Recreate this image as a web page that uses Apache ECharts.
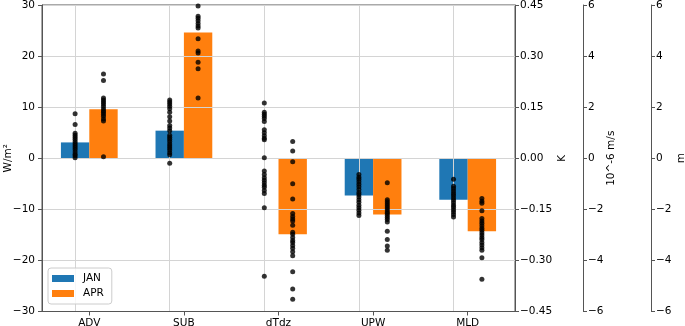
<!DOCTYPE html>
<html>
<head>
<meta charset="utf-8">
<script src="https://cdn.jsdelivr.net/npm/echarts@6/dist/echarts.min.js"></script>
<style>
  html, body { margin: 0; padding: 0; background: #fff; }
  #chart { width: 685px; height: 326px; }
</style>
</head>
<body>
<div id="chart"></div>
<script>
const categories = ['ADV', 'SUB', 'dTdz', 'UPW', 'MLD'];
const janMean = [3.1, 5.4, 0, -7.3, -8.1];
const aprMean = [9.6, 24.6, -14.9, -11.0, -14.3];

// per-member values, one list per category
const janDots = [
  [8.7, 6.6, 4.9, 4.5, 4.1, 3.7, 3.3, 2.9, 2.5, 2.1, 1.7, 1.2, 0.8, 0.5, 0.1],
  [11.4, 11.0, 10.6, 10.2, 9.7, 9.0, 8.1, 7.3, 6.4, 5.9, 5.4, 4.5, 4.1, 3.7, 3.3, 2.8, 2.4, 2.0, 1.6, 1.1, 0.7, -1.0],
  [10.8, 9.0, 8.6, 8.2, 7.8, 7.2, 5.6, 5.0, 4.4, 3.9, 3.6, 0.1, -2.5, -3.2, -3.8, -4.3, -4.8, -5.3, -5.7, -6.3, -6.9, -9.7, -23.1],
  [-3.2, -3.7, -4.1, -4.6, -5.1, -5.6, -6.1, -6.7, -7.1, -7.6, -8.1, -8.6, -9.2, -9.7, -10.2, -10.7, -11.2],
  [-4.1, -5.5, -5.9, -6.4, -6.9, -7.3, -7.8, -8.2, -8.7, -9.2, -9.6, -10.1, -10.5, -11.0, -11.5]
];
const aprDots = [
  [16.5, 15.2, 11.8, 11.4, 11.0, 10.6, 10.2, 9.7, 9.3, 9.0, 8.6, 8.2, 7.7, 7.3, 0.3],
  [29.8, 27.8, 27.4, 26.9, 26.4, 25.9, 25.5, 23.4, 21.0, 20.6, 18.8, 17.5, 11.8],
  [3.3, 1.4, -0.7, -5.0, -8.0, -10.8, -11.4, -11.9, -12.3, -13.1, -14.5, -14.9, -15.5, -16.1, -16.5, -17.1, -17.6, -18.3, -19.1, -22.2, -25.6, -27.6],
  [-4.8, -8.1, -8.5, -8.9, -9.3, -9.7, -10.1, -10.5, -10.8, -11.2, -11.6, -12.0, -12.5, -14.3, -15.9, -17.2, -18.0],
  [-7.9, -8.4, -8.8, -10.3, -11.8, -12.3, -12.7, -13.2, -13.7, -14.1, -14.6, -15.0, -15.5, -15.9, -16.5, -17.0, -17.5, -18.0, -19.5, -23.7]
];

const font = 'DejaVu Sans';
const spineColor = '#555';
const gridColor = '#d4d4d4';

const minus = v => String(v).replace('-', '\u2212');
const fixed2 = v => minus((Math.abs(v) < 1e-9 ? 0 : v).toFixed(2));

const toPoints = (lists, shift) => lists.flatMap((vals, i) => vals.map(v => [i + shift, v]));

function rightAxis(name, min, max, interval, offset, gap, fmt) {
  return {
    type: 'value',
    position: 'right',
    offset,
    min, max, interval,
    name,
    nameLocation: 'middle',
    nameRotate: 90,
    nameGap: gap,
    nameMoveOverlap: false,
    nameTextStyle: { fontFamily: font, fontSize: 10.5, color: '#000' },
    axisLine: { show: true, onZero: false, lineStyle: { color: spineColor, width: 1 } },
    axisTick: { show: true, length: 4, lineStyle: { color: spineColor } },
    axisLabel: { margin: 5, fontFamily: font, fontSize: 10.5, color: '#000', formatter: fmt },
    splitLine: { show: false },
    z: 2
  };
}

const chart = echarts.init(document.getElementById('chart'));

chart.setOption({
  animation: false,
  grid: {
    left: 42, right: 170, top: 5, bottom: 14.5,
    outerBoundsMode: 'none',
    containLabel: false,
    show: true, borderColor: spineColor, borderWidth: 1, backgroundColor: 'transparent'
  },
  legend: {
    data: ['JAN', 'APR'],
    orient: 'vertical',
    left: 48, top: 268,
    padding: [5, 8, 5, 4],
    itemWidth: 22, itemHeight: 7, itemGap: 4,
    icon: 'rect',
    borderColor: '#ccc', borderWidth: 1, borderRadius: 3,
    backgroundColor: 'rgba(255,255,255,0.8)',
    textStyle: { fontFamily: font, fontSize: 10.5, color: '#000', padding: [0, 0, 0, 4] }
  },
  xAxis: [
    {
      type: 'category',
      data: categories,
      axisLine: { show: true, onZero: false, lineStyle: { color: spineColor, width: 1 } },
      axisTick: { show: true, alignWithLabel: true, length: 4, lineStyle: { color: spineColor } },
      axisLabel: { margin: 6, fontFamily: font, fontSize: 10.5, color: '#000' },
      splitLine: { show: false },
      z: 2
    },
    { type: 'value', min: -0.5, max: 4.5, show: false }
  ],
  yAxis: [
    {
      type: 'value',
      position: 'left',
      min: -30, max: 30, interval: 10,
      name: 'W/m²',
      nameLocation: 'middle',
      nameRotate: 90,
      nameGap: 28,
      nameMoveOverlap: false,
      nameTextStyle: { fontFamily: font, fontSize: 10.5, color: '#000' },
      axisLine: { show: true, onZero: false, lineStyle: { color: spineColor, width: 1 } },
      axisTick: { show: true, length: 4, lineStyle: { color: spineColor } },
      axisLabel: { margin: 7, fontFamily: font, fontSize: 10.5, color: '#000', formatter: minus },
      splitLine: { show: true, lineStyle: { color: gridColor, width: 1 } },
      z: 2
    },
    rightAxis('K', -0.45, 0.45, 0.15, 0, 42, fixed2),
    rightAxis('10^-6 m/s', -6, 6, 2, 68, 23, minus),
    rightAxis('m', -6, 6, 2, 136, 25, minus)
  ],
  series: [
    {
      name: 'JAN', type: 'bar', data: janMean,
      barWidth: '30%', barGap: '0%',
      itemStyle: { color: '#1f77b4' }, z: 1,
      // vertical grid lines at the category centres
      markLine: {
        silent: true, symbol: 'none', z: 2,
        label: { show: false },
        lineStyle: { color: gridColor, width: 1, type: 'solid' },
        data: categories.map(c => ({ xAxis: c }))
      }
    },
    {
      name: 'APR', type: 'bar', data: aprMean,
      barWidth: '30%', barGap: '0%',
      itemStyle: { color: '#ff7f0e' }, z: 1
    },
    {
      name: 'JAN members', type: 'scatter', xAxisIndex: 1,
      data: toPoints(janDots, -0.15),
      symbolSize: 5, itemStyle: { color: '#000' }, z: 5
    },
    {
      name: 'APR members', type: 'scatter', xAxisIndex: 1,
      data: toPoints(aprDots, 0.15),
      symbolSize: 5, itemStyle: { color: '#000' }, z: 5
    }
  ]
});
</script>
</body>
</html>
